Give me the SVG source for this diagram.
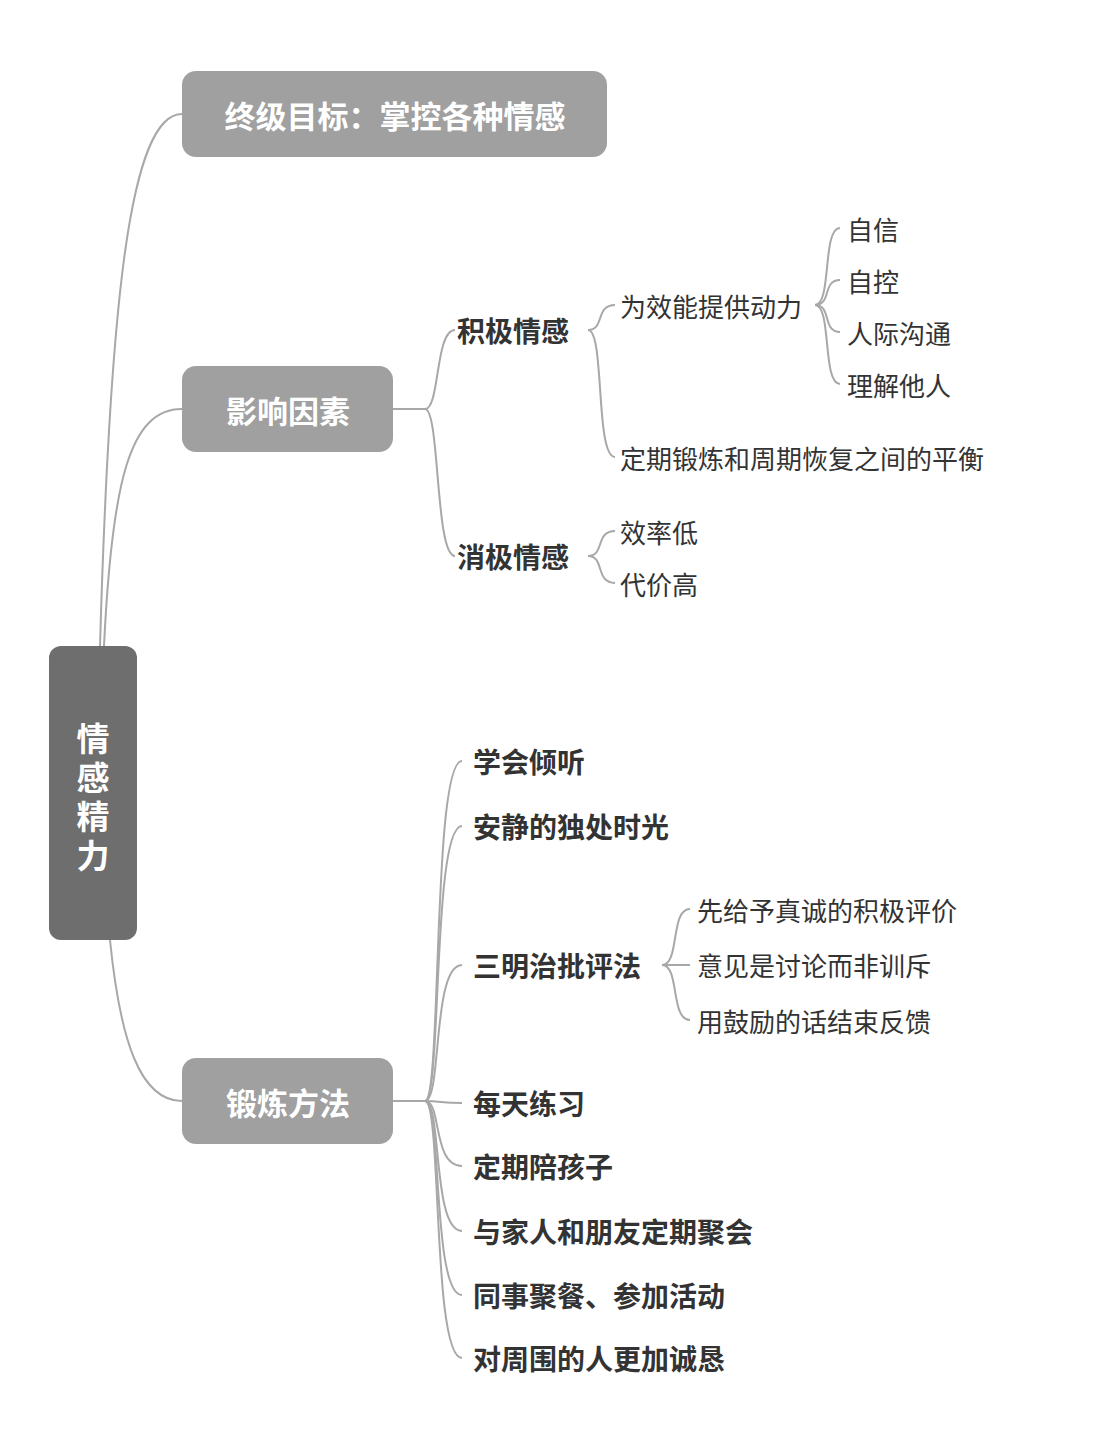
<svg xmlns="http://www.w3.org/2000/svg" width="1094" height="1440" viewBox="0 0 1094 1440">
<style>
text{font-family:"Noto Sans CJK SC","Liberation Sans",sans-serif;dominant-baseline:central}
.n1{fill:#a0a0a0}
.t1{fill:#fff;font-size:31px;font-weight:bold;text-anchor:middle}
.t2{fill:#333;font-size:28px;font-weight:bold}
.t3{fill:#333;font-size:26px}
.r{fill:#fff;font-size:33px;font-weight:bold;text-anchor:middle}
.c path{fill:none;stroke:#a8a8a8;stroke-width:2}
</style>
<rect width="1094" height="1440" fill="#fff"/>
<g class="c" id="connectors">
<path d="M100 646 C110 300 130 114 182 114"/>
<path d="M104 646 C112 480 130 409 182 409"/>
<path d="M110 940 C120 1040 140 1101 182 1101"/>
<path d="M393 409 H425 C440 409 435 330 455 330"/>
<path d="M425 409 C440 409 435 556 455 556"/>
<path d="M588 330 C605 330 595 305 615 305"/>
<path d="M588 330 C605 330 595 457 615 457"/>
<path d="M815 305 C832 305 822 228 840 228"/>
<path d="M815 305 C832 305 822 280 840 280"/>
<path d="M815 305 C832 305 822 332 840 332"/>
<path d="M815 305 C832 305 822 384 840 384"/>
<path d="M588 556 C605 556 595 531 615 531"/>
<path d="M588 556 C605 556 595 583 615 583"/>
<path d="M393 1101 H425 C442 1101 432 761 462 761"/>
<path d="M425 1101 C442 1101 432 826 462 826"/>
<path d="M425 1101 C442 1101 432 965 462 965"/>
<path d="M425 1101 C442 1101 440 1103 462 1103"/>
<path d="M425 1101 C442 1101 432 1166 462 1166"/>
<path d="M425 1101 C442 1101 432 1231 462 1231"/>
<path d="M425 1101 C442 1101 432 1295 462 1295"/>
<path d="M425 1101 C442 1101 432 1358 462 1358"/>
<path d="M662 965 C680 965 670 909 690 909"/>
<path d="M662 965 H690"/>
<path d="M662 965 C680 965 670 1020 690 1020"/>
</g>
<g id="root"><rect x="49" y="646" width="88" height="294" rx="12" fill="#6e6e6e"/>
<text class="r" x="93" y="737">情</text>
<text class="r" x="93" y="776">感</text>
<text class="r" x="93" y="815">精</text>
<text class="r" x="93" y="854">力</text></g>
<g id="goal"><rect class="n1" x="182" y="71" width="425" height="86" rx="14"/><text class="t1" x="395" y="114">终级目标：掌控各种情感</text></g>
<g id="factors"><rect class="n1" x="182" y="366" width="211" height="86" rx="14"/><text class="t1" x="288" y="409">影响因素</text></g>
<g id="methods"><rect class="n1" x="182" y="1058" width="211" height="86" rx="14"/><text class="t1" x="288" y="1101">锻炼方法</text></g>
<g id="pos"><text class="t2" x="457" y="330">积极情感</text></g>
<g id="neg"><text class="t2" x="457" y="556">消极情感</text></g>
<g id="p1"><text class="t3" x="620" y="305">为效能提供动力</text></g>
<g id="p2"><text class="t3" x="620" y="457">定期锻炼和周期恢复之间的平衡</text></g>
<g id="q1"><text class="t3" x="847" y="228">自信</text></g>
<g id="q2"><text class="t3" x="847" y="280">自控</text></g>
<g id="q3"><text class="t3" x="847" y="332">人际沟通</text></g>
<g id="q4"><text class="t3" x="847" y="384">理解他人</text></g>
<g id="n1"><text class="t3" x="620" y="531">效率低</text></g>
<g id="n2"><text class="t3" x="620" y="583">代价高</text></g>
<g id="m1"><text class="t2" x="473" y="761">学会倾听</text></g>
<g id="m2"><text class="t2" x="473" y="826">安静的独处时光</text></g>
<g id="m3"><text class="t2" x="473" y="965">三明治批评法</text></g>
<g id="m4"><text class="t2" x="473" y="1103">每天练习</text></g>
<g id="m5"><text class="t2" x="473" y="1166">定期陪孩子</text></g>
<g id="m6"><text class="t2" x="473" y="1231">与家人和朋友定期聚会</text></g>
<g id="m7"><text class="t2" x="473" y="1295">同事聚餐、参加活动</text></g>
<g id="m8"><text class="t2" x="473" y="1358">对周围的人更加诚恳</text></g>
<g id="s1"><text class="t3" x="697" y="909">先给予真诚的积极评价</text></g>
<g id="s2"><text class="t3" x="697" y="964">意见是讨论而非训斥</text></g>
<g id="s3"><text class="t3" x="697" y="1020">用鼓励的话结束反馈</text></g>
</svg>
